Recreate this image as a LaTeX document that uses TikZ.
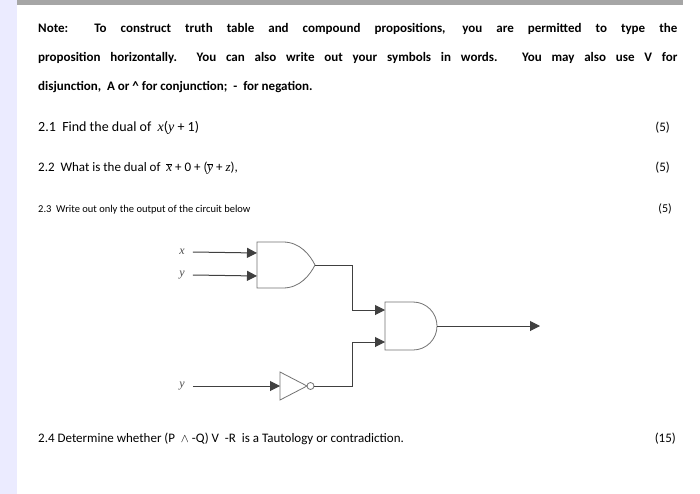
\documentclass[tikz,border=0pt]{standalone}
\usetikzlibrary{arrows.meta}
\usepackage{fontspec}
\setmainfont{Carlito}
\newfontfamily\serifm{Liberation Serif}
\newcommand{\mv}[1]{{\serifm\itshape #1}}
\begin{document}
\begin{tikzpicture}[x=1pt,y=-1pt,
  txt/.style={anchor=base west,inner sep=0},
  pts/.style={anchor=base east,inner sep=0},
  wire/.style={draw=black!75,line width=1pt},
  tip/.style={-{Triangle[length=10pt,width=10pt]}},
  lab/.style={inner sep=0,font=\serifm\itshape\fontsize{12}{12}\selectfont,text=black!70},
  gate/.style={draw=black!55,line width=0.8pt,fill=white}]
\useasboundingbox (0,0) rectangle (700,494);
\fill[white] (0,0) rectangle (700,494);
\fill[blue!8] (0,0) rectangle (17,494);
\fill[black!35] (17,0) rectangle (683,5);
\node[anchor=base west,inner sep=0,text width=639pt,align=justify,font=\bfseries\fontsize{13}{29}\selectfont] (note) at (38,33)
{Note: To construct truth table and compound propositions, you are permitted to type the\linebreak proposition horizontally.\ \ You can also write out your symbols in words. You may also use V for\linebreak disjunction,\ \ A or \^{} for conjunction;\ \ -\ \ for negation.};
\node[txt,font=\fontsize{14}{16}\selectfont] (q1) at (38,132) {2.1\ \ Find the dual of\ \ \mv{x}({\mv{y}} + 1)};
\node[pts,font=\fontsize{13}{16}\selectfont] (p1) at (670,132) {(5)};
\node[txt,font=\fontsize{13}{16}\selectfont] (q2) at (38,172) {2.2\ \ What is the dual of\ \ $\overline{\mbox{\mv{x}}}$ + 0 + ($\overline{\mbox{\mv{y}}}$ + \mv{z}),};
\node[pts,font=\fontsize{13}{16}\selectfont] (p2) at (670,172) {(5)};
\node[txt,font=\fontsize{10.5}{12}\selectfont] (q3) at (38,212) {2.3\ \ Write out only the output of the circuit below};
\node[pts,font=\fontsize{12}{14}\selectfont] (p3) at (672,212) {(5)};
\node[txt,font=\fontsize{13}{16}\selectfont] (q4) at (38,442) {2.4 Determine whether (P\ \ $\wedge$ -Q) V\ \ -R\ \ is a Tautology or contradiction.};
\node[pts,font=\fontsize{13}{16}\selectfont] (p4) at (676,442) {(15)};
% circuit
\node[lab] (lx) at (182,252) {x};
\node[lab] (ly) at (182,275) {y};
\node[lab] (ly2) at (182,386) {y};
% OR gate
\draw[gate] (257,242) -- (283,242) .. controls (300,242) and (310,255) .. (315,265)
  .. controls (310,275) and (300,288) .. (283,288) -- (257,288) -- cycle;
\coordinate (or1) at (257,253); \coordinate (or2) at (257,276); \coordinate (orout) at (315,265);
% AND gate
\draw[gate] (385,302) -- (413,302) .. controls (426.3,302) and (437,312.7) .. (437,326)
  .. controls (437,339.3) and (426.3,350) .. (413,350) -- (385,350) -- cycle;
\coordinate (and1) at (385,310); \coordinate (and2) at (385,342); \coordinate (andout) at (437,326);
\coordinate (out) at (540,326);
% NOT gate
\draw[gate] (280,372) -- (307,386) -- (280,400) -- cycle;
\draw[gate] (310.5,386) circle[radius=3.5];
\coordinate (nin) at (280,386); \coordinate (nout) at (314,386);
\draw[wire,tip] ([xshift=8pt]lx.east) -- (or1);
\draw[wire,tip] ([xshift=8pt]ly.east) -- (or2);
\draw[wire,tip] ([xshift=8pt]ly2.east) -- (nin);
\draw[wire,tip] (orout) -- (352,265) -- (352,310) -- (and1);
\draw[wire,tip] (nout) -- (352,386) -- (352,342) -- (and2);
\draw[wire,tip] (andout) -- (out);
\end{tikzpicture}
\end{document}
